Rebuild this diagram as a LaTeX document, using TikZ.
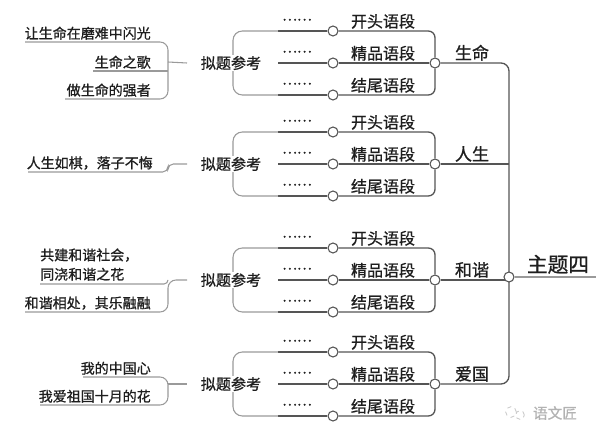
\documentclass[tikz,border=0pt]{standalone}
\usepackage{fontspec}
\setmainfont{Noto Sans CJK SC}[FakeBold=0.9]
\definecolor{darkln}{HTML}{555555}
\definecolor{lightln}{HTML}{9A9A9A}
\definecolor{ink}{HTML}{1E1E1E}
\tikzset{
  darkline/.style={draw=darkln, line width=1pt},
  lightline/.style={draw=lightln, line width=0.8pt},
  dot/.style={circle, draw=darkln, line width=0.8pt, fill=white, minimum size=7.5pt, inner sep=0pt},
  title/.style={inner sep=0pt, text=ink, font=\fontsize{10.5pt}{12pt}\selectfont},
  branch/.style={inner sep=0pt, text=ink, font=\fontsize{12pt}{14pt}\selectfont},
  dotsl/.style={inner sep=0pt, text=ink, font=\fontsize{10.5pt}{12pt}\selectfont},
  ref/.style={inner sep=1pt, fill=white, text=ink, font=\fontsize{11.3pt}{13pt}\selectfont},
  topic/.style={inner sep=0pt, text=ink, font=\fontsize{12.8pt}{14pt}\selectfont},
  rootlbl/.style={inner sep=0pt, text=ink, font=\fontsize{15.5pt}{17pt}\selectfont},
}
\begin{document}
\begin{tikzpicture}[x=0.75pt,y=-0.75pt]
\useasboundingbox (0,0) rectangle (596,438);

% ---------- right part: groups ----------
\foreach \g/\c/\tp in {1/63/生命, 2/164/人生, 3/280/和谐, 4/384/爱国}{
  % small circles per row
  \node[dot] (r\g a) at (333,\c-32) {};
  \node[dot] (r\g b) at (333,\c) {};
  \node[dot] (r\g c) at (333,\c+32) {};
  \node[dot] (t\g) at (435,\c) {};
  % bracket to topic circle
  \draw[darkline, rounded corners=5] (r\g a.east) -- (t\g |- r\g a) -- (t\g.north);
  \draw[darkline, rounded corners=5] (r\g c.east) -- (t\g |- r\g c) -- (t\g.south);
  \draw[darkline] (r\g b.east) -- (t\g.west);
  % branch labels
  \node[branch, anchor=south] (b\g a) at (383,\c-34) {开头语段};
  \node[branch, anchor=south] (b\g b) at (383,\c-2) {精品语段};
  \node[branch, anchor=south] (b\g c) at (383,\c+30) {结尾语段};
  % dotted segments
  \coordinate (d\g a) at (278,\c-32);
  \coordinate (d\g b) at (278,\c);
  \coordinate (d\g c) at (278,\c+32);
  \draw[darkline] (d\g a) -- (r\g a.west);
  \draw[darkline] (d\g b) -- (r\g b.west);
  \draw[darkline] (d\g c) -- (r\g c.west);
  \node[dotsl, anchor=south] (e\g a) at (297,\c-42) {……};
  \node[dotsl, anchor=south] (e\g b) at (297,\c-10) {……};
  \node[dotsl, anchor=south] (e\g c) at (297,\c+22) {……};
  % reference bracket
  \draw[lightline, rounded corners=7] (d\g a) -- (233,\c-32) -- (233,\c+32) -- (d\g c);
  \node[ref] (n\g) at (231,\c) {拟题参考};
  \coordinate (k\g) at (187,\c);
  % topic label
  \node[topic, anchor=south] (tl\g) at (472,\c-2) {\tp};
}

% ---------- main vertical and root ----------
\coordinate (v1) at (509,63);
\coordinate (v4) at (509,384);
\draw[darkline, rounded corners=6] (t1.east) -- (v1) -- (v4) -- (t4.east);
\draw[darkline] (t2.east) -- (t2 -| v1);
\draw[darkline] (t3.east) -- (t3 -| v1);
\node[dot] (root) at (509,277) {};
\coordinate (rend) at (596,277);
\draw[lightline] (root.east) -- (rend);
\node[rootlbl, anchor=south] (rootl) at (558,274) {主题四};

% ---------- left titles ----------
% group 1
\node[title, anchor=south east] (s1a) at (151,40) {让生命在磨难中闪光};
\node[title, anchor=south east] (s1b) at (151,69) {生命之歌};
\node[title, anchor=south east] (s1c) at (151,97) {做生命的强者};
\coordinate (u1a) at (25,42);
\coordinate (u1b) at (93,71);
\coordinate (u1c) at (65,99);
\coordinate (j1) at (168,62);
\draw[lightline, rounded corners=6] (u1a) -- (168,42) -- (168,99) -- (u1c);
\draw[lightline] (u1b) -- (168,71);
\draw[lightline] (j1) -- (k1);
% group 2
\node[title, anchor=south east] (s2a) at (153,170) {人生如棋，落子不悔};
\coordinate (u2a) at (28,172);
\draw[lightline, rounded corners=4] (u2a) -- (168,172) -- (168,164) -- (k2);
% group 3
\node[title, anchor=south west] (s3a) at (40,262) {共建和谐社会，};
\node[title, anchor=south west] (s3b) at (40,281) {同浇和谐之花};
\node[title, anchor=south east] (s3c) at (151,310) {和谐相处，其乐融融};
\coordinate (u3a) at (40,284);
\coordinate (u3c) at (25,312);
\draw[lightline, rounded corners=6] (k3) -- (168,280) -- (168,312) -- (u3c);
\draw[lightline, rounded corners=3] (u3a) -- (168,284) -- (168,280);
% group 4
\node[title, anchor=south east] (s4a) at (151,375) {我的中国心};
\node[title, anchor=south east] (s4b) at (151,403) {我爱祖国十月的花};
\coordinate (u4a) at (83,377);
\coordinate (u4b) at (40,405);
\coordinate (j4) at (168,384);
\draw[lightline, rounded corners=6] (u4a) -- (168,377) -- (168,405) -- (u4b);
\draw[lightline] (j4) -- (k4);

% ---------- watermark ----------
\node[circle, draw=gray!45, dashed, line width=0.6pt, minimum size=8pt, inner sep=0pt] (w1) at (511,412) {};
\node[circle, draw=gray!45, dashed, line width=0.6pt, minimum size=6.5pt, inner sep=0pt] (w2) at (520,415) {};
\node[inner sep=0pt, text=gray!60, font=\fontsize{11pt}{12pt}\selectfont] (wm) at (555,413) {语文匠};
\end{tikzpicture}
\end{document}
